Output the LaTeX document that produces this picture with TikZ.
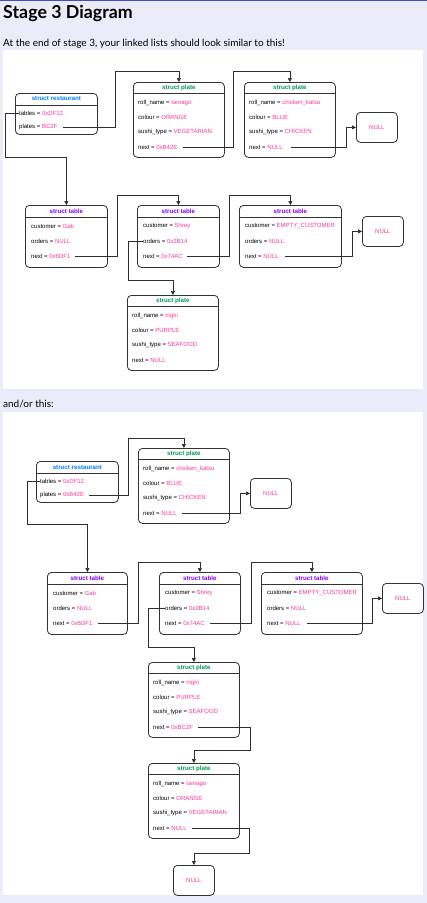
\documentclass[tikz,border=0pt]{standalone}
\usepackage{fontspec}
\setmainfont{Lato}
\newfontfamily\diagfont{Liberation Sans}
\usetikzlibrary{arrows.meta,positioning}
\definecolor{pagebg}{RGB}{235,235,250}
\definecolor{topblue}{RGB}{64,80,200}
\definecolor{boxgray}{RGB}{51,51,51}
\definecolor{linegray}{RGB}{45,45,45}
\definecolor{valpink}{RGB}{255,51,153}
\definecolor{restblue}{RGB}{0,127,255}
\definecolor{plategreen}{RGB}{0,153,76}
\definecolor{tablepurple}{RGB}{127,0,255}
\tikzstyle{structbox}=[draw=boxgray, line width=0.8pt, rounded corners=4pt,
  anchor=north west, inner sep=0pt, fill=white]
\tikzstyle{structtitle}=[font=\diagfont\fontsize{6.2}{7}\selectfont\bfseries, inner sep=0pt]
\tikzstyle{fieldtext}=[font=\diagfont\fontsize{6}{7}\selectfont, anchor=west, inner sep=0pt]
\tikzstyle{divider}=[draw=boxgray, line width=0.8pt]
\tikzstyle{nullbox}=[structbox, minimum width=41pt, minimum height=30pt,
  font=\diagfont\fontsize{6}{7}\selectfont, text=valpink]
\tikzstyle{link}=[draw=linegray, line width=0.6pt, -{Triangle[length=4pt,width=4pt]}]
\tikzstyle{pagehead}=[anchor=base west, inner sep=0pt, font=\bfseries\fontsize{17.8}{20}\selectfont]
\tikzstyle{pagetext}=[anchor=base west, inner sep=0pt, font=\fontsize{10}{12}\selectfont]
\newcommand{\val}[1]{\textcolor{valpink}{#1}}
% name, x, y, tables, plates
\newcommand{\restbox}[5]{%
  \node[structbox, minimum width=82pt, minimum height=41pt] (#1) at (#2,#3) {};
  \node[structtitle, text=restblue] (#1-h) at ([yshift=-6pt]#1.north) {struct restaurant};
  \draw[divider] ([yshift=-12pt]#1.north west) -- ([yshift=-12pt]#1.north east);
  \node[fieldtext] (#1-t) at ([xshift=4pt,yshift=-20pt]#1.north west) {tables = \val{#4}};
  \node[fieldtext] (#1-p) at ([xshift=4pt,yshift=-34pt]#1.north west) {plates = \val{#5}};
}
% name, x, y, roll, colour, type, next
\newcommand{\platebox}[7]{%
  \node[structbox, minimum width=91pt, minimum height=75pt] (#1) at (#2,#3) {};
  \node[structtitle, text=plategreen] (#1-h) at ([yshift=-5.5pt]#1.north) {struct plate};
  \draw[divider] ([yshift=-11pt]#1.north west) -- ([yshift=-11pt]#1.north east);
  \node[fieldtext] (#1-r) at ([xshift=5pt,yshift=-20.5pt]#1.north west) {roll\_name = \val{#4}};
  \node[fieldtext] (#1-c) at ([xshift=5pt,yshift=-35.5pt]#1.north west) {colour = \val{#5}};
  \node[fieldtext] (#1-s) at ([xshift=5pt,yshift=-50pt]#1.north west) {sushi\_type = \val{#6}};
  \node[fieldtext] (#1-n) at ([xshift=5pt,yshift=-65pt]#1.north west) {next = \val{#7}};
}
% name, x, y, width, customer, orders, next
\newcommand{\tablebox}[7]{%
  \node[structbox, minimum width=#4pt, minimum height=62pt] (#1) at (#2,#3) {};
  \node[structtitle, text=tablepurple] (#1-h) at ([yshift=-6pt]#1.north) {struct table};
  \draw[divider] ([yshift=-12pt]#1.north west) -- ([yshift=-12pt]#1.north east);
  \node[fieldtext] (#1-c) at ([xshift=6pt,yshift=-21pt]#1.north west) {customer = \val{#5}};
  \node[fieldtext] (#1-o) at ([xshift=6pt,yshift=-36pt]#1.north west) {orders = \val{#6}};
  \node[fieldtext] (#1-n) at ([xshift=6pt,yshift=-51pt]#1.north west) {next = \val{#7}};
}
\newcommand{\nullnode}[3]{\node[nullbox] (#1) at (#2,#3) {NULL};}

\begin{document}
\begin{tikzpicture}[x=1pt, y=-1pt]
  \useasboundingbox (0,0) rectangle (427,903);
  \fill[pagebg] (0,0) rectangle (427,903);
  \fill[topblue] (0,0) rectangle (427,1.2);
  \fill[white] (3,50) rectangle (423,389);
  \fill[white] (3,412) rectangle (423,895);
  \node[pagehead] (head) at (3,18.5) {Stage 3 Diagram};
  \node[pagetext] (intro) at (3,46) {At the end of stage 3, your linked lists should look similar to this!};
  \node[pagetext] (andor) at (3,407) {and/or this:};

  % first layout
  \restbox{r1}{15}{93}{0xDF12}{BC2F}
  \platebox{p1}{133}{82}{tamago}{ORANGE}{VEGETARIAN}{0xB42E}
  \platebox{p2}{244}{82}{chicken\_katsu}{BLUE}{CHICKEN}{NULL}
  \nullnode{n1}{356}{112}
  \tablebox{t1}{25}{205}{82}{Gab}{NULL}{0x6DF1}
  \tablebox{t2}{137}{205}{82}{Shrey}{0x2B14}{0x74AC}
  \tablebox{t3}{239}{205}{102}{EMPTY\_CUSTOMER}{NULL}{NULL}
  \nullnode{n2}{362}{216}
  \platebox{p3}{127}{295}{nigiri}{PURPLE}{SEAFOOD}{NULL}

  \draw[link] ([xshift=5pt]r1-p.east) -| (115,71) -| (p1.north);
  \draw[link] ([xshift=5pt]p1-n.east) -| (233,71) -| (p2.north);
  \draw[link] ([xshift=8pt]p2-n.east) -| ([xshift=-10pt]n1.west) -- (n1.west);
  \draw[link] (r1-t.west) -| (5,157) -| (t1.north);
  \draw[link] ([xshift=4pt]t1-n.east) -| (117,195) -| (t2.north);
  \draw[link] ([xshift=4pt]t2-n.east) -| (229,195) -| (t3.north);
  \draw[link] ([xshift=6pt]t3-n.east) -| ([xshift=-10pt]n2.west) -- (n2.west);
  \draw[link] (t2-o.west) -| (128,280) -| (p3.north);

  % second layout
  \restbox{r2}{36}{461}{0xDF12}{0xB42E}
  \platebox{pa}{138}{448}{chicken\_katsu}{BLUE}{CHICKEN}{NULL}
  \nullnode{na}{250}{478}
  \tablebox{ta}{47}{572}{80}{Gab}{NULL}{0x6DF1}
  \tablebox{tb}{159}{572}{81}{Shrey}{0x2B14}{0x74AC}
  \tablebox{tc}{261}{572}{101}{EMPTY\_CUSTOMER}{NULL}{NULL}
  \nullnode{nc}{382}{583}
  \platebox{pb}{148}{662}{nigiri}{PURPLE}{SEAFOOD}{0xBC2F}
  \platebox{pc}{148}{763}{tamago}{ORANGE}{VEGETARIAN}{NULL}
  \nullnode{nd}{173}{865}

  \draw[link] ([xshift=5pt]r2-p.east) -| (128,438) -| (pa.north);
  \draw[link] ([xshift=5pt]pa-n.east) -| ([xshift=-10pt]na.west) -- (na.west);
  \draw[link] (r2-t.west) -| (27,524) -| (ta.north);
  \draw[link] ([xshift=5pt]ta-n.east) -| (138,562) -| (tb.north);
  \draw[link] (tb-o.west) -| (148,647) -| (pb.north);
  \draw[link] ([xshift=5pt]tb-n.east) -| (251,562) -| (tc.north);
  \draw[link] ([xshift=6pt]tc-n.east) -| ([xshift=-10pt]nc.west) -- (nc.west);
  \draw[link] ([xshift=5pt]pb-n.east) -| (250,750) -| (pc.north);
  \draw[link] ([xshift=5pt]pc-n.east) -| (249,853) -| (nd.north);
\end{tikzpicture}
\end{document}
